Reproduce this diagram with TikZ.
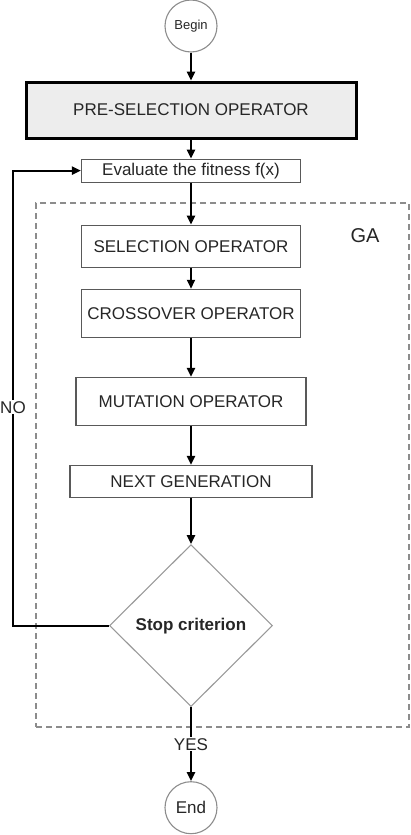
\documentclass[tikz,border=0pt]{standalone}
\usepackage{fontspec}
\setmainfont{Liberation Sans}
\usepackage{xcolor}
\usepackage{tikz}
\usetikzlibrary{positioning,shapes.geometric,arrows.meta,calc}

\begin{document}
\begin{tikzpicture}[
  font=\fontsize{17}{20}\selectfont,
  text=black!85,
  opbox/.style={rectangle,draw=black!65,line width=1.1pt,align=center,
                minimum width=219pt,inner sep=0pt},
  prebox/.style={rectangle,draw=black,line width=3pt,fill=black!7,
                 minimum width=330pt,minimum height=56pt,align=center},
  term/.style={circle,draw=black!45,line width=1.1pt,minimum size=52pt,inner sep=0pt},
  decision/.style={diamond,draw=black!40,line width=1.1pt,minimum width=163pt,
                   minimum height=162pt,inner sep=0pt,aspect=1},
  gaframe/.style={rectangle,draw=black!45,line width=1.6pt,dash pattern=on 6pt off 4pt,
                  minimum width=373pt,minimum height=524pt},
  arr/.style={-{Triangle[length=9pt,width=8pt]},line width=2.2pt}
]
\useasboundingbox (0,0) rectangle (410pt,-835pt);

% ---- GA frame ----
\node[gaframe] (ga) at (222.5pt,-465pt) {};
\node[font=\fontsize{20}{22}\selectfont] (galabel) at (365pt,-236pt) {GA};

% ---- start ----
\node[term,font=\fontsize{13}{15}\selectfont] (begin) at (191pt,-26pt) {Begin};
\node[prebox,below=28pt of begin] (pre) {PRE-SELECTION OPERATOR};
\node[opbox,minimum height=23pt,below=19pt of pre] (eval) {Evaluate the fitness f(x)};
\draw[arr] (begin) -- (pre);
\draw[arr] (pre) -- (eval);

% ---- GA loop ----
\node[opbox,minimum height=42pt,below=42pt of eval] (sel) {SELECTION OPERATOR};
\node[opbox,minimum height=48pt,below=21pt of sel] (cross) {CROSSOVER OPERATOR};
\node[opbox,minimum height=48pt,minimum width=230pt,below=39pt of cross] (mut) {MUTATION OPERATOR};
\node[opbox,minimum height=32pt,minimum width=242pt,below=39pt of mut] (next) {NEXT GENERATION};
\node[decision,below=46pt of next] (stop) {\textbf{Stop criterion}};
\draw[arr] (eval) -- (sel);
\draw[arr] (sel) -- (cross);
\draw[arr] (cross) -- (mut);
\draw[arr] (mut) -- (next);
\draw[arr] (next) -- (stop);

% ---- NO: back to fitness ----
\coordinate (loopx) at (13pt,0);
\draw[arr] (stop.west) -- (stop.west -| loopx) |- node[pos=0.24,fill=white,inner sep=1pt] (no) {NO} (eval.west);

% ---- YES: end ----
\node[term,below=74pt of stop] (end) {End};
\draw[arr] (stop) -- node[fill=white,inner sep=1pt] (yes) {YES} (end);

\end{tikzpicture}
\end{document}
